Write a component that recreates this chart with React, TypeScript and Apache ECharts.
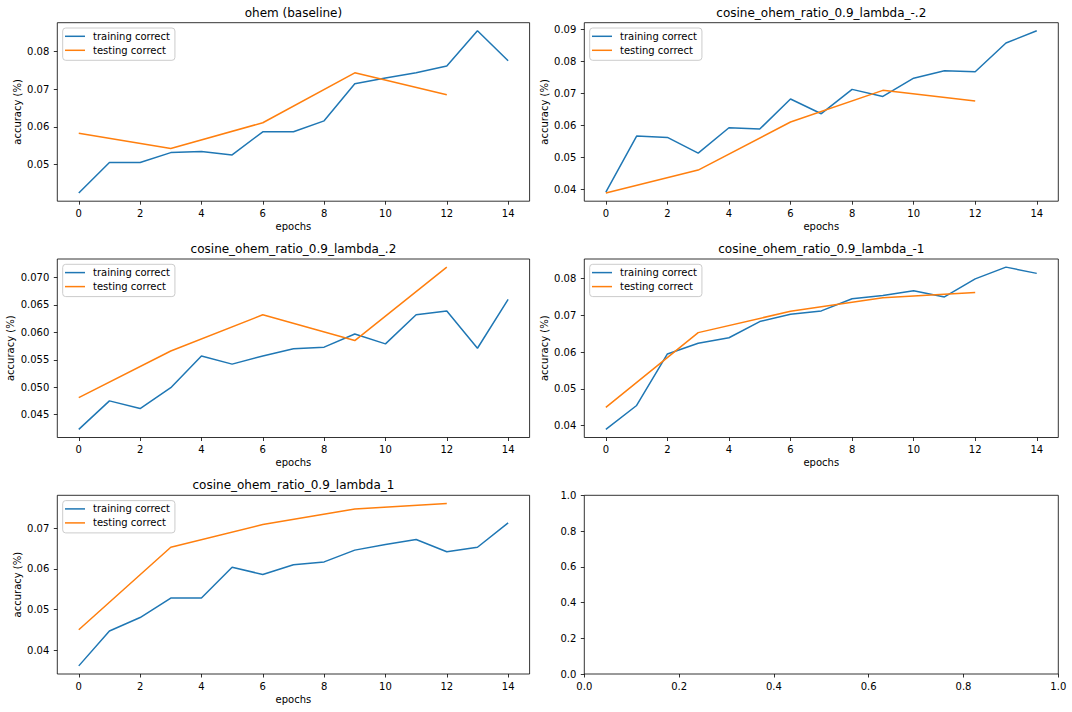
import React, { useEffect, useRef } from "react";
import * as echarts from "echarts";

// ---- data ----
const EPOCHS_TRAIN = [0, 1, 2, 3, 4, 5, 6, 7, 8, 9, 10, 11, 12, 13, 14];
const EPOCHS_TEST = [0, 3, 6, 9, 12];
const X_TICKS = [0, 2, 4, 6, 8, 10, 12, 14];
const EMPTY_TICKS = [0, 0.2, 0.4, 0.6, 0.8, 1.0];

const TITLE_1 = "ohem (baseline)";
const TITLE_2 = "cosine_ohem_ratio_0.9_lambda_-.2";
const TITLE_3 = "cosine_ohem_ratio_0.9_lambda_.2";
const TITLE_4 = "cosine_ohem_ratio_0.9_lambda_-1";
const TITLE_5 = "cosine_ohem_ratio_0.9_lambda_1";

const TRAIN_1 = [0.0425, 0.0506, 0.0506, 0.0532, 0.0535, 0.0526, 0.0587, 0.0587, 0.0616, 0.0714, 0.0729, 0.0743, 0.0761, 0.0854, 0.0775];
const TEST_1 = [0.0583, 0.0543, 0.0611, 0.0743, 0.0685];
const TRAIN_2 = [0.0391, 0.0566, 0.0562, 0.0513, 0.0592, 0.0588, 0.0682, 0.0636, 0.0712, 0.069, 0.0747, 0.077, 0.0767, 0.0857, 0.0895];
const TEST_2 = [0.0388, 0.046, 0.061, 0.0709, 0.0676];
const TRAIN_3 = [0.0423, 0.0475, 0.0461, 0.0499, 0.0557, 0.0542, 0.0557, 0.057, 0.0573, 0.0597, 0.0579, 0.0632, 0.0639, 0.0571, 0.066];
const TEST_3 = [0.0481, 0.0566, 0.0632, 0.0585, 0.0719];
const TRAIN_4 = [0.039, 0.0455, 0.0595, 0.0624, 0.0639, 0.0683, 0.0703, 0.0712, 0.0745, 0.0754, 0.0767, 0.075, 0.0799, 0.0831, 0.0814];
const TEST_4 = [0.045, 0.0653, 0.0711, 0.0748, 0.0762];
const TRAIN_5 = [0.0361, 0.0447, 0.048, 0.0528, 0.0528, 0.0604, 0.0586, 0.061, 0.0617, 0.0646, 0.066, 0.0672, 0.0642, 0.0653, 0.0713];
const TEST_5 = [0.045, 0.0653, 0.0709, 0.0747, 0.0761];

const Y_TICKS_1 = [0.05, 0.06, 0.07, 0.08];
const Y_TICKS_2 = [0.04, 0.05, 0.06, 0.07, 0.08, 0.09];
const Y_TICKS_3 = [0.045, 0.05, 0.055, 0.06, 0.065, 0.07];
const Y_TICKS_4 = [0.04, 0.05, 0.06, 0.07, 0.08];
const Y_TICKS_5 = [0.04, 0.05, 0.06, 0.07];

const SERIES_NAMES = ["training correct", "testing correct"];

const FONT = "DejaVu Sans";
const BLUE = "#1f77b4";
const ORANGE = "#ff7f0e";
const LINE_ICON = "path://M0,0 L20,0 L20,1.5 L0,1.5 Z";

export default function App() {
  const ref = useRef<HTMLDivElement>(null);

  useEffect(() => {
    if (!ref.current) return;
    const chart = echarts.init(ref.current, undefined, { renderer: "svg" });

    const panels = [
      { title: TITLE_1, train: TRAIN_1, test: TEST_1, yTicks: Y_TICKS_1, dec: 2, gap: 34.5 },
      { title: TITLE_2, train: TRAIN_2, test: TEST_2, yTicks: Y_TICKS_2, dec: 2, gap: 34.5 },
      { title: TITLE_3, train: TRAIN_3, test: TEST_3, yTicks: Y_TICKS_3, dec: 3, gap: 42 },
      { title: TITLE_4, train: TRAIN_4, test: TEST_4, yTicks: Y_TICKS_4, dec: 2, gap: 34.5 },
      { title: TITLE_5, train: TRAIN_5, test: TEST_5, yTicks: Y_TICKS_5, dec: 2, gap: 34.5 },
    ];

    const cols = [
      { left: 57.3, width: 472.3 },
      { left: 584.3, width: 474 },
    ];
    const rows = [
      { top: 22.7, height: 178.5 },
      { top: 259, height: 178.5 },
      { top: 495.3, height: 178.7 },
    ];

    const grids: any[] = [];
    const xAxes: any[] = [];
    const yAxes: any[] = [];
    const series: any[] = [];
    const titles: any[] = [];
    const legends: any[] = [];

    const tickStyle = { show: true, inside: false, length: 3.5, lineStyle: { color: "#000", width: 0.8 } };
    const labelBase = { color: "#000", fontFamily: FONT, fontSize: 10, lineHeight: 10 };
    const hiddenLine = { show: false, onZero: false };

    for (let i = 0; i < 6; i++) {
      const c = cols[i % 2];
      const r = rows[Math.floor(i / 2)];
      grids.push({
        left: c.left,
        top: r.top,
        width: c.width,
        height: r.height,
        show: true,
        borderColor: "#000",
        borderWidth: 0.8,
        backgroundColor: "#fff",
        containLabel: false,
      });

      if (i < 5) {
        const p = panels[i];
        const all = p.train.concat(p.test);
        const lo = Math.min(...all);
        const hi = Math.max(...all);
        const m = (hi - lo) * 0.05;

        xAxes.push({
          type: "value",
          gridIndex: i,
          min: -0.7,
          max: 14.7,
          axisLine: hiddenLine,
          splitLine: { show: false },
          axisTick: { ...tickStyle, customValues: X_TICKS },
          axisLabel: { ...labelBase, margin: 7, customValues: X_TICKS, formatter: (v: number) => String(v) },
          name: "epochs",
          nameLocation: "middle",
          nameGap: 20,
          nameTextStyle: { color: "#000", fontFamily: FONT, fontSize: 10, lineHeight: 10 },
        });
        yAxes.push({
          type: "value",
          gridIndex: i,
          min: lo - m,
          max: hi + m,
          axisLine: hiddenLine,
          splitLine: { show: false },
          axisTick: { ...tickStyle, customValues: p.yTicks },
          axisLabel: { ...labelBase, margin: 8, customValues: p.yTicks, formatter: (v: number) => v.toFixed(p.dec) },
          name: "accuracy (%)",
          nameLocation: "middle",
          nameGap: p.gap,
          nameTextStyle: { color: "#000", fontFamily: FONT, fontSize: 10, lineHeight: 10 },
        });

        series.push({
          type: "line",
          name: SERIES_NAMES[0],
          xAxisIndex: i,
          yAxisIndex: i,
          data: p.train.map((v, k) => [EPOCHS_TRAIN[k], v]),
          symbol: "none",
          lineStyle: { width: 1.5, color: BLUE },
          itemStyle: { color: BLUE },
        });
        series.push({
          type: "line",
          name: SERIES_NAMES[1],
          xAxisIndex: i,
          yAxisIndex: i,
          data: p.test.map((v, k) => [EPOCHS_TEST[k], v]),
          symbol: "none",
          lineStyle: { width: 1.5, color: ORANGE },
          itemStyle: { color: ORANGE },
        });

        titles.push({
          text: p.title,
          left: c.left + c.width / 2,
          top: r.top - 16.2,
          textAlign: "center",
          padding: 0,
          textStyle: { color: "#000", fontFamily: FONT, fontSize: 12, fontWeight: "normal", lineHeight: 12 },
        });

        legends.push({
          orient: "vertical",
          left: c.left + 5.4,
          top: r.top + 5.3,
          itemWidth: 20,
          itemHeight: 10,
          itemGap: 4,
          icon: LINE_ICON,
          padding: [3.3, 5, 5, 2.3],
          borderColor: "#cccccc",
          borderWidth: 1,
          borderRadius: 3,
          backgroundColor: "rgba(255,255,255,0.8)",
          selectedMode: false,
          textStyle: { color: "#000", fontFamily: FONT, fontSize: 10, lineHeight: 10, padding: [0, 0, 0, 3] },
          data: SERIES_NAMES,
        });
      } else {
        xAxes.push({
          type: "value",
          gridIndex: i,
          min: 0,
          max: 1,
          axisLine: hiddenLine,
          splitLine: { show: false },
          axisTick: { ...tickStyle, customValues: EMPTY_TICKS },
          axisLabel: { ...labelBase, margin: 7, customValues: EMPTY_TICKS, formatter: (v: number) => v.toFixed(1) },
        });
        yAxes.push({
          type: "value",
          gridIndex: i,
          min: 0,
          max: 1,
          axisLine: hiddenLine,
          splitLine: { show: false },
          axisTick: { ...tickStyle, customValues: EMPTY_TICKS },
          axisLabel: { ...labelBase, margin: 8, customValues: EMPTY_TICKS, formatter: (v: number) => v.toFixed(1) },
        });
      }
    }

    chart.setOption({
      animation: false,
      backgroundColor: "#fff",
      title: titles,
      legend: legends,
      grid: grids,
      xAxis: xAxes,
      yAxis: yAxes,
      series,
    });

    return () => chart.dispose();
  }, []);

  return (
    <div
      ref={ref}
      style={{ position: "fixed", left: 0, top: 0, width: 1072, height: 712, background: "#fff" }}
    />
  );
}
